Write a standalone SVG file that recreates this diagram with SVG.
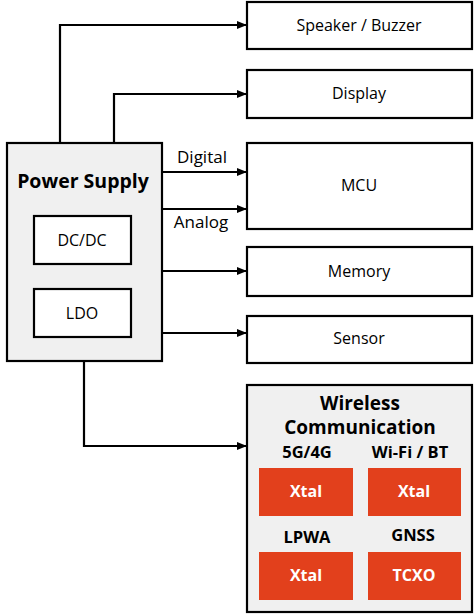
<svg xmlns="http://www.w3.org/2000/svg" width="474" height="615" viewBox="0 0 474 615">
<style>
.box{fill:#fff;stroke:#000;stroke-width:2.2}
.grp{fill:#f0f0f0;stroke:#000;stroke-width:2.2}
.red{fill:#e2401c}
.t{font-family:"Open Sans","Noto Sans",sans-serif;font-size:16px;fill:#000;text-anchor:middle}
.l{font-family:"Open Sans","Noto Sans",sans-serif;font-size:17px;fill:#000;text-anchor:middle}
.b{font-family:"Open Sans","Noto Sans",sans-serif;font-weight:bold;fill:#000;text-anchor:middle}
.w{font-family:"Open Sans","Noto Sans",sans-serif;font-weight:bold;font-size:16px;fill:#fff;text-anchor:middle}
.c{fill:none;stroke:#000;stroke-width:2.2;marker-end:url(#ah)}
</style>
<defs>
<marker id="ah" markerWidth="10" markerHeight="8" refX="9" refY="4" orient="auto" markerUnits="userSpaceOnUse">
<path d="M0,0 L10,4 L0,8 Z" fill="#000"/>
</marker>
</defs>
<g id="connectors">
<path class="c" d="M60,143 V25 H246"/>
<path class="c" d="M114,143 V94 H246"/>
<path class="c" d="M162,172 H246"/>
<path class="c" d="M162,209 H246"/>
<path class="c" d="M162,271 H246"/>
<path class="c" d="M162,333 H246"/>
<path class="c" d="M84,361 V446 H246"/>
<text class="l" x="202" y="163">Digital</text>
<text class="l" x="201" y="228">Analog</text>
</g>
<g id="speaker"><rect class="box" x="247" y="2" width="225" height="47"/><text class="t" x="359" y="31">Speaker / Buzzer</text></g>
<g id="display"><rect class="box" x="247" y="70" width="225" height="48"/><text class="t" x="359" y="99">Display</text></g>
<g id="mcu"><rect class="box" x="247" y="143" width="225" height="86"/><text class="t" x="359" y="191">MCU</text></g>
<g id="memory"><rect class="box" x="247" y="247" width="225" height="49"/><text class="t" x="359" y="277">Memory</text></g>
<g id="sensor"><rect class="box" x="247" y="316" width="225" height="47"/><text class="t" x="359" y="344">Sensor</text></g>
<g id="power">
<rect class="grp" x="7" y="143" width="155" height="218"/>
<text class="b" x="83" y="188" font-size="19.5">Power Supply</text>
<g id="dcdc"><rect class="box" x="34" y="216" width="97" height="48"/><text class="t" x="82" y="246">DC/DC</text></g>
<g id="ldo"><rect class="box" x="34" y="289" width="97" height="48"/><text class="t" x="82" y="319">LDO</text></g>
</g>
<g id="wireless">
<rect class="grp" x="247" y="385" width="225" height="227"/>
<text class="b" x="360" y="410" font-size="19">Wireless</text>
<text class="b" x="360" y="434" font-size="19">Communication</text>
<text class="b" x="307" y="458" font-size="16.5">5G/4G</text>
<text class="b" x="410" y="458" font-size="16.5">Wi-Fi / BT</text>
<g id="xtal1"><rect class="red" x="259" y="468" width="94" height="48"/><text class="w" x="306" y="497">Xtal</text></g>
<g id="xtal2"><rect class="red" x="368" y="468" width="93" height="48"/><text class="w" x="414" y="497">Xtal</text></g>
<text class="b" x="307" y="543" font-size="16.5">LPWA</text>
<text class="b" x="413" y="541" font-size="16.5">GNSS</text>
<g id="xtal3"><rect class="red" x="259" y="552" width="94" height="48"/><text class="w" x="306" y="581">Xtal</text></g>
<g id="tcxo"><rect class="red" x="368" y="552" width="93" height="48"/><text class="w" x="414" y="581">TCXO</text></g>
</g>
</svg>
